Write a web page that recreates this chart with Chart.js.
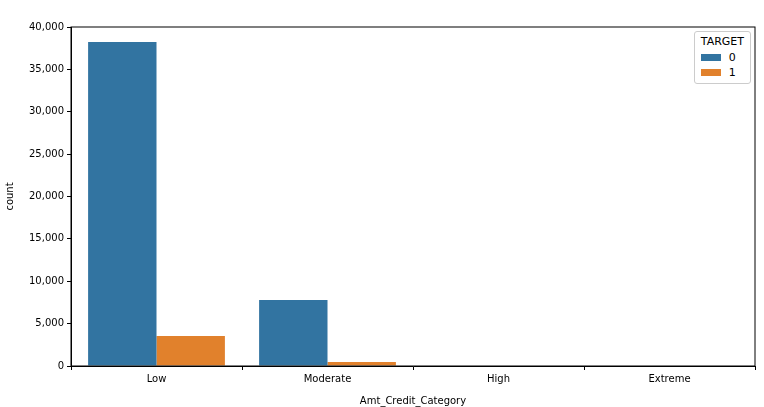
<!DOCTYPE html>
<html>
<head>
<script src="https://cdn.jsdelivr.net/npm/chart.js@4"></script>
<style>
  body { margin: 0; background: #fff; }
  #wrap { position: relative; width: 764px; height: 407px; }
  #legend { position: absolute; right: 13px; top: 31px; border: 1px solid #ccc; border-radius: 3px;
    font: 11px "DejaVu Sans", sans-serif; padding: 3px 6px 3px 6px; background: #fff; }
  #legend .t { text-align: center; margin-bottom: 2px; }
  #legend .r { display: flex; align-items: center; height: 15px; }
  #legend .s { width: 20px; height: 7px; margin-right: 8px; }
</style>
</head>
<body>
<div id="wrap">
  <canvas id="chart" width="764" height="407"></canvas>
  <div id="legend">
    <div class="t">TARGET</div>
    <div class="r"><span class="s" style="background:#3274a1"></span>0</div>
    <div class="r"><span class="s" style="background:#e1812c"></span>1</div>
  </div>
</div>
<script>
// data
const categories = ["Low", "Moderate", "High", "Extreme"];
const target0 = [38230, 7790, 0, 0];
const target1 = [3540, 470, 0, 0];

// frame around the plot
const frame = {
  id: "frame",
  afterDraw(chart) {
    const a = chart.chartArea, ctx = chart.ctx;
    ctx.save();
    ctx.strokeStyle = "#000";
    ctx.lineWidth = 1;
    ctx.strokeRect(a.left, a.top, a.right - a.left, a.bottom - a.top);
    ctx.restore();
  },
};

const font = { family: "DejaVu Sans", size: 10 };

new Chart(document.querySelector("#chart"), {
  type: "bar",
  data: {
    labels: categories,
    datasets: [
      { label: "0", data: target0, backgroundColor: "#3274a1" },
      { label: "1", data: target1, backgroundColor: "#e1812c" },
    ],
  },
  options: {
    responsive: false,
    animation: false,
    layout: { padding: { top: 27, right: 9, left: 0, bottom: 0 } },
    datasets: { bar: { categoryPercentage: 0.8, barPercentage: 1 } },
    plugins: { legend: { display: false }, tooltip: { enabled: false } },
    scales: {
      x: {
        grid: { drawOnChartArea: false, tickLength: 4, color: "#000" },
        border: { color: "#000" },
        ticks: { color: "#000", font },
        title: { display: true, text: "Amt_Credit_Category", color: "#000", font, padding: 0 },
        afterFit(s) { s.height = 41; },
      },
      y: {
        min: 0,
        max: 40000,
        grid: { drawOnChartArea: false, tickLength: 4, color: "#000" },
        border: { color: "#000" },
        ticks: { stepSize: 5000, color: "#000", font },
        title: { display: true, text: "count", color: "#000", font },
        afterFit(s) { s.width = 71; },
      },
    },
  },
  plugins: [frame],
});
</script>
</body>
</html>
